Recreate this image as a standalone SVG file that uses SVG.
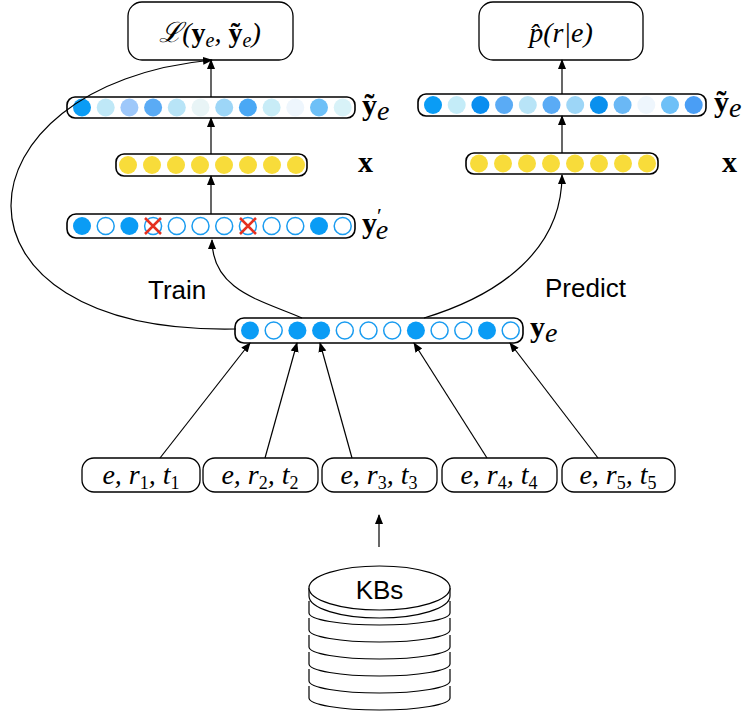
<svg xmlns="http://www.w3.org/2000/svg" width="752" height="711" viewBox="0 0 752 711">
<style>
.box{fill:#fff;stroke:#000;stroke-width:1.3}
.bar{fill:#fff;stroke:#000;stroke-width:1.6}
.f{fill:#0a9cf5}
.h{fill:#fff;stroke:#1a9cf0;stroke-width:1.5}
.yl{fill:#f8dc3a}
.m{font-family:"Liberation Serif",serif;font-style:italic;font-size:28px}
.b{font-family:"Liberation Serif",serif;font-weight:bold;font-size:30px}
.s{font-family:"Liberation Sans",sans-serif;font-size:26px}
.c{stroke:#000;stroke-width:1.2;fill:none}
.x{stroke:#e53020;stroke-width:2.5}
.d{fill:#fff;stroke:#000;stroke-width:1.2}
</style>
<defs><marker id="a" markerWidth="10" markerHeight="10" refX="9" refY="5" orient="auto" markerUnits="userSpaceOnUse"><path d="M0,1 L10,5 L0,9 z"/></marker></defs>

<g id="loss"><rect class="box" x="128" y="2" width="165" height="58" rx="14"/>
<text class="m" x="210" y="42" text-anchor="middle" font-size="30">ℒ(<tspan font-weight="bold" font-style="normal">y</tspan><tspan font-size="20" dy="5">e</tspan><tspan dy="-5">, </tspan><tspan font-weight="bold" font-style="normal">ỹ</tspan><tspan font-size="20" dy="5">e</tspan><tspan dy="-5">)</tspan></text></g>
<g id="pred"><rect class="box" x="479" y="2" width="164" height="58" rx="14"/>
<text class="m" x="561" y="42" text-anchor="middle" font-size="30">p̂(r|e)</text></g>

<g id="ytl"><rect class="bar" x="67" y="97" width="288" height="21" rx="8"/>
<circle cx="82" cy="107.5" r="9" fill="#0a9cf5"/><circle cx="105.7" cy="107.5" r="9" fill="#bfe8f7"/><circle cx="129.4" cy="107.5" r="9" fill="#9ec8fa"/><circle cx="153.1" cy="107.5" r="9" fill="#5aabf5"/><circle cx="176.8" cy="107.5" r="9" fill="#b8e4f7"/><circle cx="200.5" cy="107.5" r="9" fill="#e8f4f6"/><circle cx="224.2" cy="107.5" r="9" fill="#9dd6f7"/><circle cx="247.9" cy="107.5" r="9" fill="#4aa8f5"/><circle cx="271.6" cy="107.5" r="9" fill="#c8ecf7"/><circle cx="295.3" cy="107.5" r="9" fill="#eef6fd"/><circle cx="319" cy="107.5" r="9" fill="#6ec0f7"/><circle cx="342.7" cy="107.5" r="9" fill="#d8f2f8"/>
<text class="b" x="362" y="115">ỹ<tspan class="m" font-weight="normal" font-size="20" dy="5">e</tspan></text></g>

<g id="xl"><rect class="bar" x="116" y="154" width="191" height="22" rx="8"/>
<g class="yl"><circle cx="128" cy="165" r="9"/><circle cx="152" cy="165" r="9"/><circle cx="176" cy="165" r="9"/><circle cx="200" cy="165" r="9"/><circle cx="224" cy="165" r="9"/><circle cx="248" cy="165" r="9"/><circle cx="272" cy="165" r="9"/><circle cx="296" cy="165" r="9"/></g>
<text class="b" x="358" y="172">x</text></g>

<g id="ypl"><rect class="bar" x="67" y="214" width="288" height="24" rx="9"/>
<circle class="f" cx="82" cy="226" r="9"/><circle class="h" cx="105.7" cy="226" r="8.5"/><circle class="f" cx="129.4" cy="226" r="9"/><circle class="h" cx="153.1" cy="226" r="8.5"/><circle class="h" cx="176.8" cy="226" r="8.5"/><circle class="h" cx="200.5" cy="226" r="8.5"/><circle class="h" cx="224.2" cy="226" r="8.5"/><circle class="h" cx="247.9" cy="226" r="8.5"/><circle class="h" cx="271.6" cy="226" r="8.5"/><circle class="h" cx="295.3" cy="226" r="8.5"/><circle class="f" cx="319" cy="226" r="9"/><circle class="h" cx="342.7" cy="226" r="8.5"/>
<path class="x" d="M145,218 L161,234 M161,218 L145,234 M240,218 L256,234 M256,218 L240,234"/>
<text class="b" x="362" y="233">y<tspan font-weight="normal" font-size="22" dy="-10">′</tspan><tspan class="m" font-weight="normal" font-size="20" dx="-6" dy="16">e</tspan></text></g>

<g id="ytr"><rect class="bar" x="418" y="94" width="288" height="22" rx="8"/>
<circle cx="433" cy="105" r="9" fill="#0a9cf5"/><circle cx="456.7" cy="105" r="9" fill="#c4ecf8"/><circle cx="480.4" cy="105" r="9" fill="#0a8ef0"/><circle cx="504.1" cy="105" r="9" fill="#5aabf5"/><circle cx="527.8" cy="105" r="9" fill="#b8e4f7"/><circle cx="551.5" cy="105" r="9" fill="#5aabf5"/><circle cx="575.2" cy="105" r="9" fill="#9dd6f7"/><circle cx="598.9" cy="105" r="9" fill="#0a90ee"/><circle cx="622.6" cy="105" r="9" fill="#6ab8f5"/><circle cx="646.3" cy="105" r="9" fill="#eef6fd"/><circle cx="670" cy="105" r="9" fill="#6ec0f7"/><circle cx="693.7" cy="105" r="9" fill="#4a9ef5"/>
<text class="b" x="714" y="112">ỹ<tspan class="m" font-weight="normal" font-size="20" dy="5">e</tspan></text></g>

<g id="xr"><rect class="bar" x="466" y="153" width="192" height="21" rx="8"/>
<g class="yl"><circle cx="479" cy="163.5" r="9"/><circle cx="503" cy="163.5" r="9"/><circle cx="527" cy="163.5" r="9"/><circle cx="551" cy="163.5" r="9"/><circle cx="575" cy="163.5" r="9"/><circle cx="599" cy="163.5" r="9"/><circle cx="623" cy="163.5" r="9"/><circle cx="647" cy="163.5" r="9"/></g>
<text class="b" x="722" y="172">x</text></g>

<text class="s" x="148" y="299">Train</text>
<text class="s" x="545" y="297">Predict</text>

<g id="ye"><rect class="bar" x="235" y="318" width="288" height="25" rx="9"/>
<circle class="f" cx="250" cy="330.5" r="9"/><circle class="h" cx="273.7" cy="330.5" r="8.5"/><circle class="f" cx="297.4" cy="330.5" r="9"/><circle class="f" cx="321.1" cy="330.5" r="9"/><circle class="h" cx="344.8" cy="330.5" r="8.5"/><circle class="h" cx="368.5" cy="330.5" r="8.5"/><circle class="h" cx="392.2" cy="330.5" r="8.5"/><circle class="f" cx="415.9" cy="330.5" r="9"/><circle class="h" cx="439.6" cy="330.5" r="8.5"/><circle class="h" cx="463.3" cy="330.5" r="8.5"/><circle class="f" cx="487" cy="330.5" r="9"/><circle class="h" cx="510.7" cy="330.5" r="8.5"/>
<text class="b" x="530" y="337">y<tspan class="m" font-weight="normal" font-size="20" dy="5">e</tspan></text></g>

<g id="tuples" class="m">
<rect class="box" x="82" y="458" width="118" height="34" rx="12"/><text x="141" y="484" text-anchor="middle">e, r<tspan font-style="normal" font-size="18" dy="5">1</tspan><tspan dy="-5">, t</tspan><tspan font-style="normal" font-size="18" dy="5">1</tspan></text>
<rect class="box" x="203" y="458" width="115" height="34" rx="12"/><text x="260" y="484" text-anchor="middle">e, r<tspan font-style="normal" font-size="18" dy="5">2</tspan><tspan dy="-5">, t</tspan><tspan font-style="normal" font-size="18" dy="5">2</tspan></text>
<rect class="box" x="322" y="458" width="115" height="34" rx="12"/><text x="379" y="484" text-anchor="middle">e, r<tspan font-style="normal" font-size="18" dy="5">3</tspan><tspan dy="-5">, t</tspan><tspan font-style="normal" font-size="18" dy="5">3</tspan></text>
<rect class="box" x="442" y="458" width="115" height="34" rx="12"/><text x="499" y="484" text-anchor="middle">e, r<tspan font-style="normal" font-size="18" dy="5">4</tspan><tspan dy="-5">, t</tspan><tspan font-style="normal" font-size="18" dy="5">4</tspan></text>
<rect class="box" x="562" y="458" width="113" height="34" rx="12"/><text x="618" y="484" text-anchor="middle">e, r<tspan font-style="normal" font-size="18" dy="5">5</tspan><tspan dy="-5">, t</tspan><tspan font-style="normal" font-size="18" dy="5">5</tspan></text>
</g>

<g id="kbs">
<path class="d" d="M309,686 L309,698 A70.5,12 0 0 0 450,698 L450,686"/>
<path class="d" d="M309,669 L309,681 A70.5,12 0 0 0 450,681 L450,669"/>
<path class="d" d="M309,652 L309,664 A70.5,12 0 0 0 450,664 L450,652"/>
<path class="d" d="M309,635 L309,647 A70.5,12 0 0 0 450,647 L450,635"/>
<path class="d" d="M309,618 L309,630 A70.5,12 0 0 0 450,630 L450,618"/>
<path class="d" d="M309,601 L309,613 A70.5,12 0 0 0 450,613 L450,601"/>
<path class="d" d="M309,588 L309,596 A70.5,22 0 0 0 450,596 L450,588"/>
<ellipse class="d" cx="379.5" cy="588" rx="70.5" ry="22"/>
<text class="s" x="379.5" y="599" text-anchor="middle" font-size="30">KBs</text>
</g>

<g id="connectors" class="c" marker-end="url(#a)">
<path d="M379,547 L379,515"/>
<path d="M160,458 L250,343"/>
<path d="M265,458 L297,343"/>
<path d="M352,458 L320,343"/>
<path d="M487,458 L414,343"/>
<path d="M598,458 L510,343"/>
<path d="M302,318 C260,300 212,290 212,240"/>
<path d="M424,318 C500,295 562,250 562,175"/>
<path d="M236,329 C-70,335 -50,85 212,60"/>
<path d="M211,154 L211,118"/>
<path d="M211,214 L211,176"/>
<path d="M211,97 L211,60"/>
<path d="M562,153 L562,116"/>
<path d="M562,94 L562,60"/>
</g>
</svg>
